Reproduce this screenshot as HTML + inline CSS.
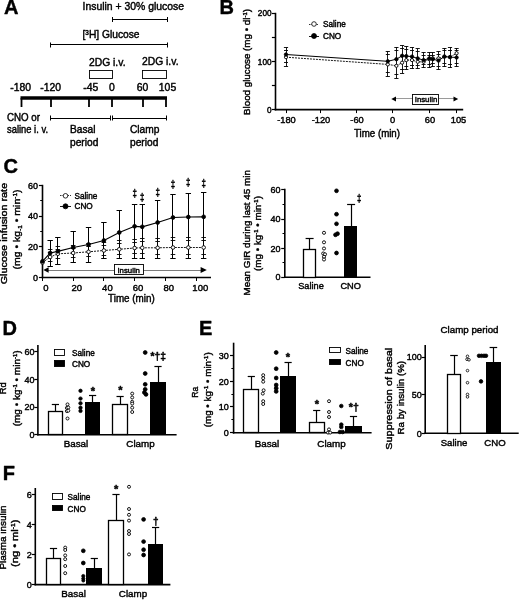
<!DOCTYPE html>
<html lang="en">
<head>
<meta charset="utf-8">
<title>Figure</title>
<style>
html,body{margin:0;padding:0;background:#fff;}
body{width:520px;height:600px;overflow:hidden;}
svg{display:block;}
svg text{font-family:'Liberation Sans', Arial, Helvetica, sans-serif;fill:#000;stroke:#000;stroke-width:0.42px;stroke-linejoin:round;}
</style>
</head>
<body>
<svg width="520" height="600" viewBox="0 0 520 600" stroke="#000" fill="#000">
<rect x="0" y="0" width="520" height="600" fill="#fff" stroke="none"/>
<text x="4.00" y="14.40" font-size="20" font-weight="bold">A</text>
<text x="82.50" y="9.60" font-size="10.4" textLength="101.50" lengthAdjust="spacingAndGlyphs">Insulin + 30% glucose</text>
<line x1="112.00" y1="19.50" x2="167.50" y2="19.50" stroke-width="1.0"/>
<line x1="112.50" y1="17.00" x2="112.50" y2="22.00" stroke-width="1.0"/>
<line x1="167.50" y1="17.00" x2="167.50" y2="22.00" stroke-width="1.0"/>
<text x="82.50" y="37.60" font-size="10.4" textLength="57.00" lengthAdjust="spacingAndGlyphs">[<tspan font-size="6.5" dy="-2.5">3</tspan><tspan dy="2.5">H] Glucose</tspan></text>
<line x1="51.00" y1="44.50" x2="167.50" y2="44.50" stroke-width="1.0"/>
<line x1="50.50" y1="42.50" x2="50.50" y2="47.50" stroke-width="1.0"/>
<line x1="167.50" y1="42.50" x2="167.50" y2="47.50" stroke-width="1.0"/>
<text x="89.00" y="65.60" font-size="10.4" textLength="36.50" lengthAdjust="spacingAndGlyphs">2DG i.v.</text>
<rect x="89.50" y="70.50" width="23.00" height="8.00" fill="#fff" stroke-width="0.9"/>
<text x="142.00" y="64.80" font-size="10.4" textLength="36.50" lengthAdjust="spacingAndGlyphs">2DG i.v.</text>
<rect x="142.50" y="70.50" width="24.00" height="8.00" fill="#fff" stroke-width="0.9"/>
<text x="20.70" y="91.30" font-size="10.4" text-anchor="middle">-180</text>
<text x="50.70" y="91.30" font-size="10.4" text-anchor="middle">-120</text>
<text x="90.70" y="91.30" font-size="10.4" text-anchor="middle">-45</text>
<text x="112.00" y="91.30" font-size="10.4" text-anchor="middle">0</text>
<text x="142.50" y="91.30" font-size="10.4" text-anchor="middle">60</text>
<text x="167.50" y="91.30" font-size="10.4" text-anchor="middle">105</text>
<line x1="20.50" y1="98.00" x2="167.00" y2="98.00" stroke-width="3.6"/>
<line x1="21.50" y1="98.00" x2="21.50" y2="107.00" stroke-width="1.8"/>
<line x1="51.00" y1="98.00" x2="51.00" y2="107.00" stroke-width="1.8"/>
<line x1="89.00" y1="98.00" x2="89.00" y2="107.00" stroke-width="1.8"/>
<line x1="112.00" y1="98.00" x2="112.00" y2="107.00" stroke-width="1.8"/>
<line x1="143.00" y1="98.00" x2="143.00" y2="107.00" stroke-width="1.8"/>
<line x1="166.00" y1="98.00" x2="166.00" y2="107.00" stroke-width="1.8"/>
<text x="7.00" y="120.50" font-size="10" textLength="33.00" lengthAdjust="spacingAndGlyphs">CNO or</text>
<text x="7.00" y="133.00" font-size="10" textLength="41.00" lengthAdjust="spacingAndGlyphs">saline i. v.</text>
<line x1="51.00" y1="118.50" x2="111.00" y2="118.50" stroke-width="1.0"/>
<line x1="50.50" y1="115.50" x2="50.50" y2="120.50" stroke-width="1.0"/>
<line x1="110.50" y1="115.50" x2="110.50" y2="120.50" stroke-width="1.0"/>
<line x1="113.00" y1="118.50" x2="167.00" y2="118.50" stroke-width="1.0"/>
<line x1="112.50" y1="115.50" x2="112.50" y2="120.50" stroke-width="1.0"/>
<line x1="166.50" y1="115.50" x2="166.50" y2="120.50" stroke-width="1.0"/>
<text x="70.00" y="133.00" font-size="10.2">Basal</text>
<text x="70.00" y="145.50" font-size="10.2">period</text>
<text x="130.00" y="133.00" font-size="10.2">Clamp</text>
<text x="130.00" y="145.50" font-size="10.2">period</text>
<text x="219.50" y="14.40" font-size="20" font-weight="bold">B</text>
<line x1="275.50" y1="12.80" x2="275.50" y2="110.40" stroke-width="1.6"/>
<line x1="274.70" y1="109.60" x2="463.20" y2="109.60" stroke-width="1.6"/>
<line x1="271.90" y1="13.50" x2="275.50" y2="13.50" stroke-width="1.2"/>
<text x="271.50" y="16.40" font-size="8.2" text-anchor="end">200</text>
<line x1="271.90" y1="37.50" x2="275.50" y2="37.50" stroke-width="1.2"/>
<line x1="271.90" y1="61.50" x2="275.50" y2="61.50" stroke-width="1.2"/>
<text x="271.50" y="64.60" font-size="8.2" text-anchor="end">100</text>
<line x1="271.90" y1="85.50" x2="275.50" y2="85.50" stroke-width="1.2"/>
<line x1="271.90" y1="109.50" x2="275.50" y2="109.50" stroke-width="1.2"/>
<text x="271.50" y="112.60" font-size="8.2" text-anchor="end">0</text>
<line x1="286.50" y1="109.60" x2="286.50" y2="113.10" stroke-width="1.0"/>
<line x1="320.50" y1="109.60" x2="320.50" y2="113.10" stroke-width="1.0"/>
<line x1="356.50" y1="109.60" x2="356.50" y2="113.10" stroke-width="1.0"/>
<line x1="392.50" y1="109.60" x2="392.50" y2="113.10" stroke-width="1.0"/>
<line x1="429.50" y1="109.60" x2="429.50" y2="113.10" stroke-width="1.0"/>
<line x1="456.50" y1="109.60" x2="456.50" y2="113.10" stroke-width="1.0"/>
<text x="286.50" y="122.50" font-size="9.3" text-anchor="middle">-180</text>
<text x="321.00" y="122.50" font-size="9.3" text-anchor="middle">-120</text>
<text x="357.00" y="122.50" font-size="9.3" text-anchor="middle">-60</text>
<text x="392.50" y="122.50" font-size="9.3" text-anchor="middle">0</text>
<text x="430.00" y="122.50" font-size="9.3" text-anchor="middle">60</text>
<text x="458.50" y="122.50" font-size="9.3" text-anchor="middle">105</text>
<text x="377.00" y="137.30" font-size="10" text-anchor="middle" textLength="46.00" lengthAdjust="spacingAndGlyphs">Time (min)</text>
<text x="250.00" y="62.00" font-size="9.8" text-anchor="middle" transform="rotate(-90 250.00 62.00)" textLength="106.00" lengthAdjust="spacingAndGlyphs">Blood glucose (mg • dl<tspan font-size="6" dy="-3">-1</tspan><tspan dy="3">)</tspan></text>
<line x1="309.00" y1="24.50" x2="319.00" y2="24.50" stroke-width="0.8" stroke-dasharray="1.5 1"/>
<circle cx="314.00" cy="24.00" r="2.3" fill="#fff" stroke-width="0.8"/>
<text x="323.00" y="27.00" font-size="8.2">Saline</text>
<line x1="309.00" y1="36.50" x2="319.00" y2="36.50" stroke-width="0.9"/>
<circle cx="314.00" cy="36.00" r="2.5" fill="#000" stroke-width="0.8"/>
<text x="323.00" y="39.00" font-size="8.2">CNO</text>
<line x1="286.50" y1="47.50" x2="286.50" y2="66.50" stroke-width="0.9"/>
<line x1="283.90" y1="47.50" x2="288.10" y2="47.50" stroke-width="0.9"/>
<line x1="283.90" y1="66.50" x2="288.10" y2="66.50" stroke-width="0.9"/>
<line x1="284.00" y1="50.50" x2="288.00" y2="50.50" stroke-width="0.9"/>
<line x1="284.00" y1="62.50" x2="288.00" y2="62.50" stroke-width="0.9"/>
<line x1="387.50" y1="51.40" x2="387.50" y2="76.50" stroke-width="0.9"/>
<line x1="385.70" y1="51.50" x2="389.90" y2="51.50" stroke-width="0.9"/>
<line x1="385.70" y1="76.50" x2="389.90" y2="76.50" stroke-width="0.9"/>
<line x1="385.80" y1="54.50" x2="389.80" y2="54.50" stroke-width="0.9"/>
<line x1="385.80" y1="72.50" x2="389.80" y2="72.50" stroke-width="0.9"/>
<line x1="396.50" y1="47.10" x2="396.50" y2="78.30" stroke-width="0.9"/>
<line x1="394.30" y1="47.50" x2="398.50" y2="47.50" stroke-width="0.9"/>
<line x1="394.30" y1="78.50" x2="398.50" y2="78.50" stroke-width="0.9"/>
<line x1="394.40" y1="50.50" x2="398.40" y2="50.50" stroke-width="0.9"/>
<line x1="394.40" y1="74.50" x2="398.40" y2="74.50" stroke-width="0.9"/>
<line x1="402.50" y1="45.40" x2="402.50" y2="73.40" stroke-width="0.9"/>
<line x1="400.00" y1="45.50" x2="404.20" y2="45.50" stroke-width="0.9"/>
<line x1="400.00" y1="73.50" x2="404.20" y2="73.50" stroke-width="0.9"/>
<line x1="400.10" y1="48.50" x2="404.10" y2="48.50" stroke-width="0.9"/>
<line x1="400.10" y1="69.50" x2="404.10" y2="69.50" stroke-width="0.9"/>
<line x1="406.50" y1="46.20" x2="406.50" y2="69.60" stroke-width="0.9"/>
<line x1="404.20" y1="46.50" x2="408.40" y2="46.50" stroke-width="0.9"/>
<line x1="404.20" y1="69.50" x2="408.40" y2="69.50" stroke-width="0.9"/>
<line x1="404.30" y1="49.50" x2="408.30" y2="49.50" stroke-width="0.9"/>
<line x1="404.30" y1="66.50" x2="408.30" y2="66.50" stroke-width="0.9"/>
<line x1="412.50" y1="47.10" x2="412.50" y2="68.70" stroke-width="0.9"/>
<line x1="409.90" y1="47.50" x2="414.10" y2="47.50" stroke-width="0.9"/>
<line x1="409.90" y1="68.50" x2="414.10" y2="68.50" stroke-width="0.9"/>
<line x1="410.00" y1="50.50" x2="414.00" y2="50.50" stroke-width="0.9"/>
<line x1="410.00" y1="65.50" x2="414.00" y2="65.50" stroke-width="0.9"/>
<line x1="417.50" y1="48.80" x2="417.50" y2="68.70" stroke-width="0.9"/>
<line x1="415.60" y1="48.50" x2="419.80" y2="48.50" stroke-width="0.9"/>
<line x1="415.60" y1="68.50" x2="419.80" y2="68.50" stroke-width="0.9"/>
<line x1="415.70" y1="51.50" x2="419.70" y2="51.50" stroke-width="0.9"/>
<line x1="415.70" y1="65.50" x2="419.70" y2="65.50" stroke-width="0.9"/>
<line x1="423.50" y1="52.30" x2="423.50" y2="67.90" stroke-width="0.9"/>
<line x1="421.50" y1="52.50" x2="425.70" y2="52.50" stroke-width="0.9"/>
<line x1="421.50" y1="67.50" x2="425.70" y2="67.50" stroke-width="0.9"/>
<line x1="421.60" y1="55.50" x2="425.60" y2="55.50" stroke-width="0.9"/>
<line x1="421.60" y1="64.50" x2="425.60" y2="64.50" stroke-width="0.9"/>
<line x1="429.50" y1="52.30" x2="429.50" y2="67.90" stroke-width="0.9"/>
<line x1="427.20" y1="52.50" x2="431.40" y2="52.50" stroke-width="0.9"/>
<line x1="427.20" y1="67.50" x2="431.40" y2="67.50" stroke-width="0.9"/>
<line x1="427.30" y1="55.50" x2="431.30" y2="55.50" stroke-width="0.9"/>
<line x1="427.30" y1="64.50" x2="431.30" y2="64.50" stroke-width="0.9"/>
<line x1="432.50" y1="52.30" x2="432.50" y2="67.00" stroke-width="0.9"/>
<line x1="430.70" y1="52.50" x2="434.90" y2="52.50" stroke-width="0.9"/>
<line x1="430.70" y1="66.50" x2="434.90" y2="66.50" stroke-width="0.9"/>
<line x1="430.80" y1="55.50" x2="434.80" y2="55.50" stroke-width="0.9"/>
<line x1="430.80" y1="63.50" x2="434.80" y2="63.50" stroke-width="0.9"/>
<line x1="438.50" y1="51.40" x2="438.50" y2="69.60" stroke-width="0.9"/>
<line x1="436.40" y1="51.50" x2="440.60" y2="51.50" stroke-width="0.9"/>
<line x1="436.40" y1="69.50" x2="440.60" y2="69.50" stroke-width="0.9"/>
<line x1="436.50" y1="54.50" x2="440.50" y2="54.50" stroke-width="0.9"/>
<line x1="436.50" y1="66.50" x2="440.50" y2="66.50" stroke-width="0.9"/>
<line x1="444.50" y1="48.00" x2="444.50" y2="67.00" stroke-width="0.9"/>
<line x1="442.30" y1="48.50" x2="446.50" y2="48.50" stroke-width="0.9"/>
<line x1="442.30" y1="66.50" x2="446.50" y2="66.50" stroke-width="0.9"/>
<line x1="442.40" y1="50.50" x2="446.40" y2="50.50" stroke-width="0.9"/>
<line x1="442.40" y1="63.50" x2="446.40" y2="63.50" stroke-width="0.9"/>
<line x1="450.50" y1="47.10" x2="450.50" y2="67.90" stroke-width="0.9"/>
<line x1="447.90" y1="47.50" x2="452.10" y2="47.50" stroke-width="0.9"/>
<line x1="447.90" y1="67.50" x2="452.10" y2="67.50" stroke-width="0.9"/>
<line x1="448.00" y1="50.50" x2="452.00" y2="50.50" stroke-width="0.9"/>
<line x1="448.00" y1="64.50" x2="452.00" y2="64.50" stroke-width="0.9"/>
<line x1="456.50" y1="48.00" x2="456.50" y2="67.00" stroke-width="0.9"/>
<line x1="454.50" y1="48.50" x2="458.70" y2="48.50" stroke-width="0.9"/>
<line x1="454.50" y1="66.50" x2="458.70" y2="66.50" stroke-width="0.9"/>
<line x1="454.60" y1="50.50" x2="458.60" y2="50.50" stroke-width="0.9"/>
<line x1="454.60" y1="63.50" x2="458.60" y2="63.50" stroke-width="0.9"/>
<polyline points="286.00,57.20 387.80,64.40 396.40,65.80 402.10,62.70 406.30,60.10 412.00,60.10 417.70,61.80 423.60,61.80 429.30,59.20 432.80,58.40 438.50,58.40 444.40,56.60 450.00,57.10 456.60,53.20" fill="none" stroke-width="0.9" stroke-dasharray="2 1"/>
<polyline points="286.00,54.50 387.80,61.30 396.40,59.20 402.10,55.80 406.30,56.10 412.00,56.60 417.70,58.40 423.60,60.10 429.30,58.40 432.80,59.20 438.50,60.60 444.40,56.60 450.00,57.10 456.60,57.50" fill="none" stroke-width="1.0"/>
<circle cx="286.00" cy="57.20" r="1.6" fill="#fff" stroke-width="0.9"/>
<circle cx="387.80" cy="64.40" r="1.6" fill="#fff" stroke-width="0.9"/>
<circle cx="396.40" cy="65.80" r="1.6" fill="#fff" stroke-width="0.9"/>
<circle cx="402.10" cy="62.70" r="1.6" fill="#fff" stroke-width="0.9"/>
<circle cx="406.30" cy="60.10" r="1.6" fill="#fff" stroke-width="0.9"/>
<circle cx="412.00" cy="60.10" r="1.6" fill="#fff" stroke-width="0.9"/>
<circle cx="417.70" cy="61.80" r="1.6" fill="#fff" stroke-width="0.9"/>
<circle cx="423.60" cy="61.80" r="1.6" fill="#fff" stroke-width="0.9"/>
<circle cx="429.30" cy="59.20" r="1.6" fill="#fff" stroke-width="0.9"/>
<circle cx="432.80" cy="58.40" r="1.6" fill="#fff" stroke-width="0.9"/>
<circle cx="438.50" cy="58.40" r="1.6" fill="#fff" stroke-width="0.9"/>
<circle cx="444.40" cy="56.60" r="1.6" fill="#fff" stroke-width="0.9"/>
<circle cx="450.00" cy="57.10" r="1.6" fill="#fff" stroke-width="0.9"/>
<circle cx="456.60" cy="53.20" r="1.6" fill="#fff" stroke-width="0.9"/>
<circle cx="286.00" cy="54.50" r="1.7" fill="#000" stroke-width="0.8"/>
<circle cx="387.80" cy="61.30" r="1.7" fill="#000" stroke-width="0.8"/>
<circle cx="396.40" cy="59.20" r="1.7" fill="#000" stroke-width="0.8"/>
<circle cx="402.10" cy="55.80" r="1.7" fill="#000" stroke-width="0.8"/>
<circle cx="406.30" cy="56.10" r="1.7" fill="#000" stroke-width="0.8"/>
<circle cx="412.00" cy="56.60" r="1.7" fill="#000" stroke-width="0.8"/>
<circle cx="417.70" cy="58.40" r="1.7" fill="#000" stroke-width="0.8"/>
<circle cx="423.60" cy="60.10" r="1.7" fill="#000" stroke-width="0.8"/>
<circle cx="429.30" cy="58.40" r="1.7" fill="#000" stroke-width="0.8"/>
<circle cx="432.80" cy="59.20" r="1.7" fill="#000" stroke-width="0.8"/>
<circle cx="438.50" cy="60.60" r="1.7" fill="#000" stroke-width="0.8"/>
<circle cx="444.40" cy="56.60" r="1.7" fill="#000" stroke-width="0.8"/>
<circle cx="450.00" cy="57.10" r="1.7" fill="#000" stroke-width="0.8"/>
<circle cx="456.60" cy="57.50" r="1.7" fill="#000" stroke-width="0.8"/>
<line x1="394.00" y1="98.50" x2="455.00" y2="98.50" stroke-width="0.6" stroke="#555"/>
<path d="M391.3 99 L396 96.5 L396 101.5Z" stroke="none"/>
<path d="M458.2 99 L453.5 96.5 L453.5 101.5Z" stroke="none"/>
<rect x="412.50" y="94.50" width="26.00" height="10.00" fill="#fff" stroke-width="0.9"/>
<text x="426.00" y="102.00" font-size="7.8" text-anchor="middle">Insulin</text>
<text x="3.40" y="172.70" font-size="20" font-weight="bold">C</text>
<line x1="42.50" y1="184.80" x2="42.50" y2="278.30" stroke-width="1.6"/>
<line x1="41.70" y1="277.50" x2="211.00" y2="277.50" stroke-width="1.6"/>
<line x1="38.90" y1="185.50" x2="42.50" y2="185.50" stroke-width="1.2"/>
<text x="38.00" y="188.70" font-size="9" text-anchor="end">60</text>
<line x1="38.90" y1="216.50" x2="42.50" y2="216.50" stroke-width="1.2"/>
<text x="38.00" y="219.40" font-size="9" text-anchor="end">40</text>
<line x1="38.90" y1="246.50" x2="42.50" y2="246.50" stroke-width="1.2"/>
<text x="38.00" y="250.20" font-size="9" text-anchor="end">20</text>
<line x1="38.90" y1="277.50" x2="42.50" y2="277.50" stroke-width="1.2"/>
<text x="38.00" y="280.70" font-size="9" text-anchor="end">0</text>
<line x1="40.20" y1="200.50" x2="42.50" y2="200.50" stroke-width="1.0"/>
<line x1="40.20" y1="231.50" x2="42.50" y2="231.50" stroke-width="1.0"/>
<line x1="40.20" y1="262.50" x2="42.50" y2="262.50" stroke-width="1.0"/>
<line x1="42.50" y1="277.50" x2="42.50" y2="281.00" stroke-width="1.0"/>
<text x="46.00" y="290.50" font-size="9.5" text-anchor="middle">0</text>
<line x1="73.50" y1="277.50" x2="73.50" y2="281.00" stroke-width="1.0"/>
<text x="76.70" y="290.50" font-size="9.5" text-anchor="middle">20</text>
<line x1="103.50" y1="277.50" x2="103.50" y2="281.00" stroke-width="1.0"/>
<text x="107.40" y="290.50" font-size="9.5" text-anchor="middle">40</text>
<line x1="134.50" y1="277.50" x2="134.50" y2="281.00" stroke-width="1.0"/>
<text x="138.10" y="290.50" font-size="9.5" text-anchor="middle">60</text>
<line x1="165.50" y1="277.50" x2="165.50" y2="281.00" stroke-width="1.0"/>
<text x="168.80" y="290.50" font-size="9.5" text-anchor="middle">80</text>
<line x1="196.50" y1="277.50" x2="196.50" y2="281.00" stroke-width="1.0"/>
<text x="200.30" y="290.50" font-size="9.5" text-anchor="middle">100</text>
<text x="131.40" y="301.60" font-size="10" text-anchor="middle" textLength="46.70" lengthAdjust="spacingAndGlyphs">Time (min)</text>
<text x="7.00" y="233.60" font-size="9.8" text-anchor="middle" transform="rotate(-90 7.00 233.60)" textLength="101.50" lengthAdjust="spacingAndGlyphs">Glucose infusion rate</text>
<text x="19.60" y="229.50" font-size="9.8" text-anchor="middle" transform="rotate(-90 19.60 229.50)" textLength="80.00" lengthAdjust="spacingAndGlyphs">(mg • kg<tspan font-size="6" dy="2">-1</tspan><tspan dy="-2"> • min</tspan><tspan font-size="6" dy="-3">-1</tspan><tspan dy="3">)</tspan></text>
<line x1="60.00" y1="195.50" x2="71.00" y2="195.50" stroke-width="0.8" stroke-dasharray="1.5 1"/>
<circle cx="65.50" cy="195.80" r="2.3" fill="#fff" stroke-width="0.8"/>
<text x="74.50" y="198.80" font-size="8.2">Saline</text>
<line x1="60.00" y1="206.50" x2="71.00" y2="206.50" stroke-width="0.9"/>
<circle cx="65.50" cy="206.30" r="2.5" fill="#000" stroke-width="0.8"/>
<text x="74.50" y="209.30" font-size="8.2">CNO</text>
<line x1="50.50" y1="240.50" x2="50.50" y2="267.00" stroke-width="1.0"/>
<line x1="47.47" y1="240.50" x2="52.88" y2="240.50" stroke-width="1.0"/>
<line x1="47.47" y1="266.50" x2="52.88" y2="266.50" stroke-width="1.0"/>
<line x1="47.88" y1="249.50" x2="52.47" y2="249.50" stroke-width="0.9"/>
<line x1="47.88" y1="252.50" x2="52.47" y2="252.50" stroke-width="0.9"/>
<line x1="47.88" y1="261.50" x2="52.47" y2="261.50" stroke-width="0.9"/>
<line x1="57.50" y1="237.50" x2="57.50" y2="265.00" stroke-width="1.0"/>
<line x1="55.15" y1="237.50" x2="60.55" y2="237.50" stroke-width="1.0"/>
<line x1="55.15" y1="264.50" x2="60.55" y2="264.50" stroke-width="1.0"/>
<line x1="55.55" y1="246.50" x2="60.15" y2="246.50" stroke-width="0.9"/>
<line x1="55.55" y1="249.50" x2="60.15" y2="249.50" stroke-width="0.9"/>
<line x1="55.55" y1="258.50" x2="60.15" y2="258.50" stroke-width="0.9"/>
<line x1="73.50" y1="231.80" x2="73.50" y2="263.00" stroke-width="1.0"/>
<line x1="70.50" y1="231.50" x2="75.90" y2="231.50" stroke-width="1.0"/>
<line x1="70.50" y1="262.50" x2="75.90" y2="262.50" stroke-width="1.0"/>
<line x1="70.90" y1="245.50" x2="75.50" y2="245.50" stroke-width="0.9"/>
<line x1="70.90" y1="248.50" x2="75.50" y2="248.50" stroke-width="0.9"/>
<line x1="70.90" y1="257.50" x2="75.50" y2="257.50" stroke-width="0.9"/>
<line x1="88.50" y1="227.50" x2="88.50" y2="262.50" stroke-width="1.0"/>
<line x1="85.85" y1="227.50" x2="91.25" y2="227.50" stroke-width="1.0"/>
<line x1="85.85" y1="262.50" x2="91.25" y2="262.50" stroke-width="1.0"/>
<line x1="86.25" y1="243.50" x2="90.85" y2="243.50" stroke-width="0.9"/>
<line x1="86.25" y1="246.50" x2="90.85" y2="246.50" stroke-width="0.9"/>
<line x1="86.25" y1="256.50" x2="90.85" y2="256.50" stroke-width="0.9"/>
<line x1="103.50" y1="222.00" x2="103.50" y2="258.80" stroke-width="1.0"/>
<line x1="101.20" y1="222.50" x2="106.60" y2="222.50" stroke-width="1.0"/>
<line x1="101.20" y1="258.50" x2="106.60" y2="258.50" stroke-width="1.0"/>
<line x1="101.60" y1="242.50" x2="106.20" y2="242.50" stroke-width="0.9"/>
<line x1="101.60" y1="245.50" x2="106.20" y2="245.50" stroke-width="0.9"/>
<line x1="101.60" y1="255.50" x2="106.20" y2="255.50" stroke-width="0.9"/>
<line x1="119.50" y1="210.80" x2="119.50" y2="258.80" stroke-width="1.0"/>
<line x1="116.55" y1="210.50" x2="121.95" y2="210.50" stroke-width="1.0"/>
<line x1="116.55" y1="258.50" x2="121.95" y2="258.50" stroke-width="1.0"/>
<line x1="116.95" y1="240.50" x2="121.55" y2="240.50" stroke-width="0.9"/>
<line x1="116.95" y1="243.50" x2="121.55" y2="243.50" stroke-width="0.9"/>
<line x1="116.95" y1="254.50" x2="121.55" y2="254.50" stroke-width="0.9"/>
<line x1="134.50" y1="204.50" x2="134.50" y2="258.50" stroke-width="1.0"/>
<line x1="131.90" y1="204.50" x2="137.30" y2="204.50" stroke-width="1.0"/>
<line x1="131.90" y1="258.50" x2="137.30" y2="258.50" stroke-width="1.0"/>
<line x1="132.30" y1="239.50" x2="136.90" y2="239.50" stroke-width="0.9"/>
<line x1="132.30" y1="242.50" x2="136.90" y2="242.50" stroke-width="0.9"/>
<line x1="132.30" y1="253.50" x2="136.90" y2="253.50" stroke-width="0.9"/>
<line x1="142.50" y1="204.50" x2="142.50" y2="258.50" stroke-width="1.0"/>
<line x1="139.57" y1="204.50" x2="144.97" y2="204.50" stroke-width="1.0"/>
<line x1="139.57" y1="258.50" x2="144.97" y2="258.50" stroke-width="1.0"/>
<line x1="139.97" y1="238.50" x2="144.57" y2="238.50" stroke-width="0.9"/>
<line x1="139.97" y1="241.50" x2="144.57" y2="241.50" stroke-width="0.9"/>
<line x1="139.97" y1="253.50" x2="144.57" y2="253.50" stroke-width="0.9"/>
<line x1="157.50" y1="200.00" x2="157.50" y2="258.50" stroke-width="1.0"/>
<line x1="154.93" y1="200.50" x2="160.32" y2="200.50" stroke-width="1.0"/>
<line x1="154.93" y1="258.50" x2="160.32" y2="258.50" stroke-width="1.0"/>
<line x1="155.32" y1="238.50" x2="159.93" y2="238.50" stroke-width="0.9"/>
<line x1="155.32" y1="241.50" x2="159.93" y2="241.50" stroke-width="0.9"/>
<line x1="155.32" y1="254.50" x2="159.93" y2="254.50" stroke-width="0.9"/>
<line x1="172.50" y1="194.50" x2="172.50" y2="258.50" stroke-width="1.0"/>
<line x1="170.28" y1="194.50" x2="175.67" y2="194.50" stroke-width="1.0"/>
<line x1="170.28" y1="258.50" x2="175.67" y2="258.50" stroke-width="1.0"/>
<line x1="170.67" y1="237.50" x2="175.28" y2="237.50" stroke-width="0.9"/>
<line x1="170.67" y1="240.50" x2="175.28" y2="240.50" stroke-width="0.9"/>
<line x1="170.67" y1="254.50" x2="175.28" y2="254.50" stroke-width="0.9"/>
<line x1="188.50" y1="193.80" x2="188.50" y2="258.50" stroke-width="1.0"/>
<line x1="185.62" y1="193.50" x2="191.02" y2="193.50" stroke-width="1.0"/>
<line x1="185.62" y1="258.50" x2="191.02" y2="258.50" stroke-width="1.0"/>
<line x1="186.02" y1="237.50" x2="190.62" y2="237.50" stroke-width="0.9"/>
<line x1="186.02" y1="240.50" x2="190.62" y2="240.50" stroke-width="0.9"/>
<line x1="186.02" y1="254.50" x2="190.62" y2="254.50" stroke-width="0.9"/>
<line x1="203.50" y1="192.50" x2="203.50" y2="258.50" stroke-width="1.0"/>
<line x1="200.97" y1="192.50" x2="206.37" y2="192.50" stroke-width="1.0"/>
<line x1="200.97" y1="258.50" x2="206.37" y2="258.50" stroke-width="1.0"/>
<line x1="201.37" y1="237.50" x2="205.97" y2="237.50" stroke-width="0.9"/>
<line x1="201.37" y1="240.50" x2="205.97" y2="240.50" stroke-width="0.9"/>
<line x1="201.37" y1="254.50" x2="205.97" y2="254.50" stroke-width="0.9"/>
<polyline points="42.50,262.50 50.17,257.00 57.85,253.80 73.20,253.00 88.55,251.80 103.90,250.50 119.25,249.30 134.60,248.00 142.27,247.80 157.62,247.80 172.97,247.50 188.32,247.50 203.67,247.50" fill="none" stroke-width="0.9" stroke-dasharray="2 1"/>
<polyline points="42.50,261.30 50.17,253.00 57.85,251.30 73.20,247.50 88.55,244.50 103.90,240.50 119.25,232.50 134.60,226.30 142.27,226.80 157.62,222.50 172.97,217.50 188.32,217.00 203.67,216.80" fill="none" stroke-width="1.2"/>
<circle cx="42.50" cy="262.50" r="1.8" fill="#fff" stroke-width="0.9"/>
<circle cx="50.17" cy="257.00" r="1.8" fill="#fff" stroke-width="0.9"/>
<circle cx="57.85" cy="253.80" r="1.8" fill="#fff" stroke-width="0.9"/>
<circle cx="73.20" cy="253.00" r="1.8" fill="#fff" stroke-width="0.9"/>
<circle cx="88.55" cy="251.80" r="1.8" fill="#fff" stroke-width="0.9"/>
<circle cx="103.90" cy="250.50" r="1.8" fill="#fff" stroke-width="0.9"/>
<circle cx="119.25" cy="249.30" r="1.8" fill="#fff" stroke-width="0.9"/>
<circle cx="134.60" cy="248.00" r="1.8" fill="#fff" stroke-width="0.9"/>
<circle cx="142.27" cy="247.80" r="1.8" fill="#fff" stroke-width="0.9"/>
<circle cx="157.62" cy="247.80" r="1.8" fill="#fff" stroke-width="0.9"/>
<circle cx="172.97" cy="247.50" r="1.8" fill="#fff" stroke-width="0.9"/>
<circle cx="188.32" cy="247.50" r="1.8" fill="#fff" stroke-width="0.9"/>
<circle cx="203.67" cy="247.50" r="1.8" fill="#fff" stroke-width="0.9"/>
<circle cx="42.50" cy="261.30" r="1.9" fill="#000" stroke-width="0.8"/>
<circle cx="50.17" cy="253.00" r="1.9" fill="#000" stroke-width="0.8"/>
<circle cx="57.85" cy="251.30" r="1.9" fill="#000" stroke-width="0.8"/>
<circle cx="73.20" cy="247.50" r="1.9" fill="#000" stroke-width="0.8"/>
<circle cx="88.55" cy="244.50" r="1.9" fill="#000" stroke-width="0.8"/>
<circle cx="103.90" cy="240.50" r="1.9" fill="#000" stroke-width="0.8"/>
<circle cx="119.25" cy="232.50" r="1.9" fill="#000" stroke-width="0.8"/>
<circle cx="134.60" cy="226.30" r="1.9" fill="#000" stroke-width="0.8"/>
<circle cx="142.27" cy="226.80" r="1.9" fill="#000" stroke-width="0.8"/>
<circle cx="157.62" cy="222.50" r="1.9" fill="#000" stroke-width="0.8"/>
<circle cx="172.97" cy="217.50" r="1.9" fill="#000" stroke-width="0.8"/>
<circle cx="188.32" cy="217.00" r="1.9" fill="#000" stroke-width="0.8"/>
<circle cx="203.67" cy="216.80" r="1.9" fill="#000" stroke-width="0.8"/>
<text x="132.40" y="197.30" font-size="11" font-weight="bold" textLength="4.40" lengthAdjust="spacingAndGlyphs">‡</text>
<text x="140.07" y="200.50" font-size="11" font-weight="bold" textLength="4.40" lengthAdjust="spacingAndGlyphs">‡</text>
<text x="155.43" y="196.30" font-size="11" font-weight="bold" textLength="4.40" lengthAdjust="spacingAndGlyphs">‡</text>
<text x="170.78" y="187.80" font-size="11" font-weight="bold" textLength="4.40" lengthAdjust="spacingAndGlyphs">‡</text>
<text x="186.12" y="186.30" font-size="11" font-weight="bold" textLength="4.40" lengthAdjust="spacingAndGlyphs">‡</text>
<text x="201.47" y="186.80" font-size="11" font-weight="bold" textLength="4.40" lengthAdjust="spacingAndGlyphs">‡</text>
<line x1="46.00" y1="270.50" x2="203.00" y2="270.50" stroke-width="0.7" stroke="#444"/>
<path d="M43.3 270 L48.6 267.3 L48.6 272.7Z" stroke="none"/>
<path d="M206.8 270 L200.6 267 L200.6 273Z" stroke="none"/>
<rect x="114.50" y="264.50" width="29.00" height="10.00" fill="#fff" stroke-width="0.9"/>
<text x="128.70" y="272.60" font-size="7.8" text-anchor="middle">Insulin</text>
<line x1="284.80" y1="188.80" x2="284.80" y2="278.00" stroke-width="1.6"/>
<line x1="284.00" y1="277.20" x2="370.50" y2="277.20" stroke-width="1.6"/>
<line x1="281.20" y1="189.50" x2="284.80" y2="189.50" stroke-width="1.2"/>
<text x="280.50" y="192.90" font-size="9" text-anchor="end">60</text>
<line x1="281.20" y1="219.50" x2="284.80" y2="219.50" stroke-width="1.2"/>
<text x="280.50" y="222.30" font-size="9" text-anchor="end">40</text>
<line x1="281.20" y1="248.50" x2="284.80" y2="248.50" stroke-width="1.2"/>
<text x="280.50" y="251.70" font-size="9" text-anchor="end">20</text>
<line x1="281.20" y1="277.50" x2="284.80" y2="277.50" stroke-width="1.2"/>
<text x="280.50" y="280.40" font-size="9" text-anchor="end">0</text>
<line x1="282.50" y1="204.50" x2="284.80" y2="204.50" stroke-width="1.0"/>
<line x1="282.50" y1="233.50" x2="284.80" y2="233.50" stroke-width="1.0"/>
<line x1="282.50" y1="262.50" x2="284.80" y2="262.50" stroke-width="1.0"/>
<line x1="309.50" y1="238.50" x2="309.50" y2="250.00" stroke-width="1.2"/>
<line x1="305.60" y1="238.50" x2="313.60" y2="238.50" stroke-width="1.2"/>
<rect x="303.50" y="249.50" width="12.00" height="28.00" fill="#fff" stroke-width="1.3"/>
<line x1="351.50" y1="204.00" x2="351.50" y2="228.00" stroke-width="1.2"/>
<line x1="347.10" y1="204.50" x2="355.10" y2="204.50" stroke-width="1.2"/>
<rect x="344.50" y="226.50" width="12.00" height="51.00" fill="#000" stroke-width="1.0"/>
<circle cx="324.00" cy="232.80" r="1.55" fill="#fff" stroke-width="0.9"/>
<circle cx="324.00" cy="242.30" r="1.55" fill="#fff" stroke-width="0.9"/>
<circle cx="324.00" cy="248.50" r="1.55" fill="#fff" stroke-width="0.9"/>
<circle cx="323.20" cy="253.50" r="1.55" fill="#fff" stroke-width="0.9"/>
<circle cx="325.00" cy="254.30" r="1.55" fill="#fff" stroke-width="0.9"/>
<circle cx="324.00" cy="256.80" r="1.55" fill="#fff" stroke-width="0.9"/>
<circle cx="324.00" cy="259.50" r="1.55" fill="#fff" stroke-width="0.9"/>
<circle cx="336.50" cy="190.80" r="1.9" fill="#000" stroke-width="0.8"/>
<circle cx="336.50" cy="214.20" r="1.9" fill="#000" stroke-width="0.8"/>
<circle cx="336.50" cy="223.80" r="1.9" fill="#000" stroke-width="0.8"/>
<circle cx="335.50" cy="234.80" r="1.9" fill="#000" stroke-width="0.8"/>
<circle cx="337.50" cy="233.70" r="1.9" fill="#000" stroke-width="0.8"/>
<circle cx="336.50" cy="253.00" r="1.9" fill="#000" stroke-width="0.8"/>
<text x="357.00" y="202.20" font-size="11" font-weight="bold" textLength="4.40" lengthAdjust="spacingAndGlyphs">‡</text>
<text x="311.00" y="288.60" font-size="9.2" text-anchor="middle">Saline</text>
<text x="350.70" y="288.60" font-size="9.2" text-anchor="middle">CNO</text>
<text x="249.60" y="232.80" font-size="9.8" text-anchor="middle" transform="rotate(-90 249.60 232.80)" textLength="125.50" lengthAdjust="spacingAndGlyphs">Mean GIR during last 45 min</text>
<text x="260.80" y="233.50" font-size="9.8" text-anchor="middle" transform="rotate(-90 260.80 233.50)" textLength="75.00" lengthAdjust="spacingAndGlyphs">(mg • kg<tspan font-size="6" dy="-3">-1</tspan><tspan dy="3"> • min</tspan><tspan font-size="6" dy="-3">-1</tspan><tspan dy="3">)</tspan></text>
<text x="2.50" y="335.40" font-size="20" font-weight="bold">D</text>
<line x1="37.90" y1="345.00" x2="37.90" y2="435.60" stroke-width="1.6"/>
<line x1="37.10" y1="434.80" x2="176.60" y2="434.80" stroke-width="1.6"/>
<line x1="34.30" y1="351.50" x2="37.90" y2="351.50" stroke-width="1.2"/>
<text x="34.50" y="354.70" font-size="9" text-anchor="end">60</text>
<line x1="34.30" y1="379.50" x2="37.90" y2="379.50" stroke-width="1.2"/>
<text x="34.50" y="382.50" font-size="9" text-anchor="end">40</text>
<line x1="34.30" y1="407.50" x2="37.90" y2="407.50" stroke-width="1.2"/>
<text x="34.50" y="410.30" font-size="9" text-anchor="end">20</text>
<line x1="34.30" y1="434.50" x2="37.90" y2="434.50" stroke-width="1.2"/>
<text x="34.50" y="438.00" font-size="9" text-anchor="end">0</text>
<line x1="55.50" y1="405.00" x2="55.50" y2="412.00" stroke-width="1.2"/>
<line x1="51.80" y1="404.50" x2="59.00" y2="404.50" stroke-width="1.2"/>
<rect x="48.50" y="411.50" width="14.00" height="23.00" fill="#fff" stroke-width="1.3"/>
<line x1="92.50" y1="395.30" x2="92.50" y2="404.00" stroke-width="1.2"/>
<line x1="89.00" y1="395.50" x2="96.20" y2="395.50" stroke-width="1.2"/>
<rect x="85.50" y="402.50" width="14.00" height="32.00" fill="#000" stroke-width="1.0"/>
<line x1="120.50" y1="396.80" x2="120.50" y2="406.00" stroke-width="1.2"/>
<line x1="116.50" y1="396.50" x2="123.70" y2="396.50" stroke-width="1.2"/>
<rect x="112.50" y="404.50" width="15.00" height="30.00" fill="#fff" stroke-width="1.3"/>
<line x1="158.50" y1="366.10" x2="158.50" y2="384.00" stroke-width="1.2"/>
<line x1="154.40" y1="366.50" x2="161.60" y2="366.50" stroke-width="1.2"/>
<rect x="150.50" y="382.50" width="15.00" height="52.00" fill="#000" stroke-width="1.0"/>
<circle cx="67.50" cy="404.40" r="1.5" fill="#fff" stroke-width="0.9"/>
<circle cx="66.90" cy="407.90" r="1.5" fill="#fff" stroke-width="0.9"/>
<circle cx="68.30" cy="407.50" r="1.5" fill="#fff" stroke-width="0.9"/>
<circle cx="66.90" cy="411.10" r="1.5" fill="#fff" stroke-width="0.9"/>
<circle cx="68.30" cy="410.70" r="1.5" fill="#fff" stroke-width="0.9"/>
<circle cx="67.50" cy="418.50" r="1.5" fill="#fff" stroke-width="0.9"/>
<circle cx="80.50" cy="390.80" r="1.7" fill="#000" stroke-width="0.8"/>
<circle cx="80.50" cy="398.60" r="1.7" fill="#000" stroke-width="0.8"/>
<circle cx="80.50" cy="403.30" r="1.7" fill="#000" stroke-width="0.8"/>
<circle cx="80.50" cy="407.70" r="1.7" fill="#000" stroke-width="0.8"/>
<circle cx="80.50" cy="410.90" r="1.7" fill="#000" stroke-width="0.8"/>
<text x="93.00" y="394.50" font-size="11" text-anchor="middle" font-weight="bold">*</text>
<circle cx="132.20" cy="393.60" r="1.5" fill="#fff" stroke-width="0.9"/>
<circle cx="132.20" cy="397.50" r="1.5" fill="#fff" stroke-width="0.9"/>
<circle cx="132.20" cy="401.80" r="1.5" fill="#fff" stroke-width="0.9"/>
<circle cx="132.20" cy="403.60" r="1.5" fill="#fff" stroke-width="0.9"/>
<circle cx="132.20" cy="407.70" r="1.5" fill="#fff" stroke-width="0.9"/>
<circle cx="132.20" cy="412.00" r="1.5" fill="#fff" stroke-width="0.9"/>
<text x="120.30" y="394.30" font-size="11" text-anchor="middle" font-weight="bold">*</text>
<circle cx="145.20" cy="352.50" r="1.9" fill="#000" stroke-width="0.8"/>
<circle cx="145.20" cy="373.50" r="1.9" fill="#000" stroke-width="0.8"/>
<circle cx="145.20" cy="384.30" r="1.9" fill="#000" stroke-width="0.8"/>
<circle cx="145.20" cy="389.30" r="1.9" fill="#000" stroke-width="0.8"/>
<circle cx="144.40" cy="392.50" r="1.9" fill="#000" stroke-width="0.8"/>
<circle cx="146.00" cy="394.40" r="1.9" fill="#000" stroke-width="0.8"/>
<text x="158.30" y="359.80" font-size="10" text-anchor="middle" font-weight="bold" textLength="15.50" lengthAdjust="spacingAndGlyphs">*†‡</text>
<rect x="54.50" y="349.50" width="10.00" height="6.00" fill="#fff" stroke-width="0.9"/>
<text x="72.00" y="355.90" font-size="8.2">Saline</text>
<rect x="54.50" y="360.50" width="10.00" height="6.00" fill="#000" stroke-width="0.9"/>
<text x="72.00" y="367.20" font-size="8.2">CNO</text>
<text x="76.00" y="447.30" font-size="9.8" text-anchor="middle">Basal</text>
<text x="140.50" y="447.30" font-size="9.8" text-anchor="middle">Clamp</text>
<text x="6.40" y="388.30" font-size="9.4" text-anchor="middle" transform="rotate(-90 6.40 388.30)">Rd</text>
<text x="19.80" y="388.30" font-size="9.8" text-anchor="middle" transform="rotate(-90 19.80 388.30)" textLength="76.00" lengthAdjust="spacingAndGlyphs">(mg • kg<tspan font-size="6" dy="-3">-1</tspan><tspan dy="3"> • min</tspan><tspan font-size="6" dy="-3">-1</tspan><tspan dy="3">)</tspan></text>
<text x="199.10" y="335.40" font-size="20" font-weight="bold">E</text>
<line x1="233.60" y1="342.70" x2="233.60" y2="433.60" stroke-width="1.6"/>
<line x1="232.80" y1="432.80" x2="371.60" y2="432.80" stroke-width="1.6"/>
<line x1="230.00" y1="355.50" x2="233.60" y2="355.50" stroke-width="1.2"/>
<text x="228.80" y="358.50" font-size="9" text-anchor="end">30</text>
<line x1="230.00" y1="381.50" x2="233.60" y2="381.50" stroke-width="1.2"/>
<text x="228.80" y="384.50" font-size="9" text-anchor="end">20</text>
<line x1="230.00" y1="406.50" x2="233.60" y2="406.50" stroke-width="1.2"/>
<text x="228.80" y="410.20" font-size="9" text-anchor="end">10</text>
<line x1="230.00" y1="432.50" x2="233.60" y2="432.50" stroke-width="1.2"/>
<text x="228.80" y="436.00" font-size="9" text-anchor="end">0</text>
<line x1="231.40" y1="368.50" x2="233.60" y2="368.50" stroke-width="1.0"/>
<line x1="231.40" y1="394.50" x2="233.60" y2="394.50" stroke-width="1.0"/>
<line x1="231.40" y1="419.50" x2="233.60" y2="419.50" stroke-width="1.0"/>
<line x1="251.50" y1="376.70" x2="251.50" y2="390.00" stroke-width="1.2"/>
<line x1="247.70" y1="376.50" x2="254.90" y2="376.50" stroke-width="1.2"/>
<rect x="243.50" y="389.50" width="15.00" height="43.00" fill="#fff" stroke-width="1.3"/>
<line x1="288.50" y1="362.60" x2="288.50" y2="378.00" stroke-width="1.2"/>
<line x1="284.50" y1="362.50" x2="291.70" y2="362.50" stroke-width="1.2"/>
<rect x="280.50" y="376.50" width="15.00" height="56.00" fill="#000" stroke-width="1.0"/>
<line x1="316.50" y1="410.40" x2="316.50" y2="423.00" stroke-width="1.2"/>
<line x1="313.10" y1="410.50" x2="320.30" y2="410.50" stroke-width="1.2"/>
<rect x="309.50" y="422.50" width="15.00" height="10.00" fill="#fff" stroke-width="1.3"/>
<line x1="353.50" y1="416.40" x2="353.50" y2="427.00" stroke-width="1.2"/>
<line x1="349.90" y1="416.50" x2="357.10" y2="416.50" stroke-width="1.2"/>
<rect x="345.50" y="426.50" width="16.00" height="6.00" fill="#000" stroke-width="1.0"/>
<circle cx="263.20" cy="375.20" r="1.5" fill="#fff" stroke-width="0.9"/>
<circle cx="263.20" cy="378.20" r="1.5" fill="#fff" stroke-width="0.9"/>
<circle cx="263.20" cy="381.70" r="1.5" fill="#fff" stroke-width="0.9"/>
<circle cx="263.60" cy="390.30" r="1.5" fill="#fff" stroke-width="0.9"/>
<circle cx="262.80" cy="393.60" r="1.5" fill="#fff" stroke-width="0.9"/>
<circle cx="263.20" cy="401.20" r="1.5" fill="#fff" stroke-width="0.9"/>
<circle cx="263.20" cy="404.00" r="1.5" fill="#fff" stroke-width="0.9"/>
<circle cx="276.20" cy="352.50" r="1.9" fill="#000" stroke-width="0.8"/>
<circle cx="276.20" cy="368.70" r="1.9" fill="#000" stroke-width="0.8"/>
<circle cx="276.20" cy="378.00" r="1.9" fill="#000" stroke-width="0.8"/>
<circle cx="276.20" cy="385.00" r="1.9" fill="#000" stroke-width="0.8"/>
<circle cx="276.20" cy="388.20" r="1.9" fill="#000" stroke-width="0.8"/>
<circle cx="276.20" cy="391.40" r="1.9" fill="#000" stroke-width="0.8"/>
<text x="288.00" y="360.50" font-size="11" text-anchor="middle" font-weight="bold">*</text>
<text x="316.80" y="408.00" font-size="11" text-anchor="middle" font-weight="bold">*</text>
<circle cx="329.00" cy="401.20" r="1.5" fill="#fff" stroke-width="0.9"/>
<circle cx="329.00" cy="412.00" r="1.5" fill="#fff" stroke-width="0.9"/>
<circle cx="329.00" cy="417.00" r="1.5" fill="#fff" stroke-width="0.9"/>
<circle cx="329.00" cy="429.40" r="1.5" fill="#fff" stroke-width="0.9"/>
<circle cx="328.00" cy="432.60" r="1.5" fill="#fff" stroke-width="0.9"/>
<circle cx="330.20" cy="432.60" r="1.5" fill="#fff" stroke-width="0.9"/>
<circle cx="341.30" cy="406.00" r="1.8" fill="#000" stroke-width="0.8"/>
<circle cx="341.30" cy="424.60" r="1.8" fill="#000" stroke-width="0.8"/>
<circle cx="341.30" cy="427.00" r="1.8" fill="#000" stroke-width="0.8"/>
<circle cx="339.90" cy="432.00" r="1.8" fill="#000" stroke-width="0.8"/>
<circle cx="342.70" cy="432.00" r="1.8" fill="#000" stroke-width="0.8"/>
<text x="353.80" y="410.60" font-size="10" text-anchor="middle" font-weight="bold" textLength="10.00" lengthAdjust="spacingAndGlyphs">*†</text>
<rect x="329.50" y="347.50" width="11.00" height="5.00" fill="#fff" stroke-width="0.9"/>
<text x="345.60" y="353.70" font-size="8.2">Saline</text>
<rect x="329.50" y="359.50" width="11.00" height="5.00" fill="#000" stroke-width="0.9"/>
<text x="345.60" y="365.70" font-size="8.2">CNO</text>
<text x="267.00" y="446.70" font-size="9.8" text-anchor="middle">Basal</text>
<text x="331.50" y="447.30" font-size="9.8" text-anchor="middle">Clamp</text>
<text x="198.00" y="392.30" font-size="8.6" text-anchor="middle" transform="rotate(-90 198.00 392.30)">Ra</text>
<text x="211.50" y="389.80" font-size="9.8" text-anchor="middle" transform="rotate(-90 211.50 389.80)" textLength="75.00" lengthAdjust="spacingAndGlyphs">(mg • kg<tspan font-size="6" dy="-3">-1</tspan><tspan dy="3"> • min</tspan><tspan font-size="6" dy="-3">-1</tspan><tspan dy="3">)</tspan></text>
<text x="469.50" y="333.00" font-size="9.8" text-anchor="middle" textLength="58.00" lengthAdjust="spacingAndGlyphs">Clamp period</text>
<line x1="425.20" y1="345.00" x2="425.20" y2="434.10" stroke-width="1.6"/>
<line x1="424.40" y1="433.30" x2="518.70" y2="433.30" stroke-width="1.6"/>
<line x1="421.60" y1="357.50" x2="425.20" y2="357.50" stroke-width="1.2"/>
<text x="421.70" y="360.30" font-size="9" text-anchor="end">100</text>
<line x1="421.60" y1="394.50" x2="425.20" y2="394.50" stroke-width="1.2"/>
<text x="421.70" y="398.00" font-size="9" text-anchor="end">50</text>
<line x1="421.60" y1="433.50" x2="425.20" y2="433.50" stroke-width="1.2"/>
<text x="421.70" y="436.50" font-size="9" text-anchor="end">0</text>
<line x1="454.50" y1="355.20" x2="454.50" y2="375.00" stroke-width="1.2"/>
<line x1="450.20" y1="355.50" x2="457.80" y2="355.50" stroke-width="1.2"/>
<rect x="447.50" y="374.50" width="13.00" height="59.00" fill="#fff" stroke-width="1.3"/>
<line x1="493.50" y1="347.70" x2="493.50" y2="363.00" stroke-width="1.2"/>
<line x1="489.60" y1="347.50" x2="497.20" y2="347.50" stroke-width="1.2"/>
<rect x="486.50" y="362.50" width="14.00" height="71.00" fill="#000" stroke-width="1.0"/>
<circle cx="467.50" cy="356.30" r="1.3" fill="#fff" stroke-width="0.8"/>
<circle cx="467.00" cy="359.30" r="1.3" fill="#fff" stroke-width="0.8"/>
<circle cx="469.00" cy="359.80" r="1.3" fill="#fff" stroke-width="0.8"/>
<circle cx="467.50" cy="370.60" r="1.3" fill="#fff" stroke-width="0.8"/>
<circle cx="467.50" cy="382.70" r="1.3" fill="#fff" stroke-width="0.8"/>
<circle cx="467.50" cy="394.40" r="1.3" fill="#fff" stroke-width="0.8"/>
<circle cx="467.50" cy="396.90" r="1.3" fill="#fff" stroke-width="0.8"/>
<circle cx="479.00" cy="355.80" r="1.8" fill="#000" stroke-width="0.8"/>
<circle cx="481.50" cy="355.80" r="1.8" fill="#000" stroke-width="0.8"/>
<circle cx="484.00" cy="355.80" r="1.8" fill="#000" stroke-width="0.8"/>
<circle cx="486.00" cy="355.80" r="1.8" fill="#000" stroke-width="0.8"/>
<circle cx="481.00" cy="381.40" r="1.8" fill="#000" stroke-width="0.8"/>
<text x="454.00" y="446.20" font-size="9.6" text-anchor="middle">Saline</text>
<text x="495.00" y="446.20" font-size="9.6" text-anchor="middle">CNO</text>
<text x="391.80" y="398.80" font-size="9.8" text-anchor="middle" transform="rotate(-90 391.80 398.80)" textLength="102.00" lengthAdjust="spacingAndGlyphs">Suppression of basal</text>
<text x="403.80" y="397.70" font-size="9.8" text-anchor="middle" transform="rotate(-90 403.80 397.70)" textLength="73.50" lengthAdjust="spacingAndGlyphs">Ra by insulin (%)</text>
<text x="2.80" y="480.00" font-size="20" font-weight="bold">F</text>
<line x1="35.30" y1="488.00" x2="35.30" y2="585.40" stroke-width="1.6"/>
<line x1="34.50" y1="584.60" x2="170.40" y2="584.60" stroke-width="1.6"/>
<line x1="31.70" y1="494.50" x2="35.30" y2="494.50" stroke-width="1.2"/>
<text x="31.80" y="498.20" font-size="9" text-anchor="end">6</text>
<line x1="31.70" y1="524.50" x2="35.30" y2="524.50" stroke-width="1.2"/>
<text x="31.80" y="527.80" font-size="9" text-anchor="end">4</text>
<line x1="31.70" y1="554.50" x2="35.30" y2="554.50" stroke-width="1.2"/>
<text x="31.80" y="557.60" font-size="9" text-anchor="end">2</text>
<line x1="31.70" y1="584.50" x2="35.30" y2="584.50" stroke-width="1.2"/>
<text x="31.80" y="587.80" font-size="9" text-anchor="end">0</text>
<line x1="53.50" y1="548.90" x2="53.50" y2="559.00" stroke-width="1.2"/>
<line x1="49.90" y1="548.50" x2="57.10" y2="548.50" stroke-width="1.2"/>
<rect x="46.50" y="558.50" width="14.00" height="26.00" fill="#fff" stroke-width="1.3"/>
<line x1="94.50" y1="558.40" x2="94.50" y2="570.00" stroke-width="1.2"/>
<line x1="90.70" y1="558.50" x2="97.90" y2="558.50" stroke-width="1.2"/>
<rect x="86.50" y="568.50" width="15.00" height="16.00" fill="#000" stroke-width="1.0"/>
<line x1="116.50" y1="494.50" x2="116.50" y2="522.00" stroke-width="1.2"/>
<line x1="112.40" y1="494.50" x2="119.60" y2="494.50" stroke-width="1.2"/>
<rect x="108.50" y="520.50" width="15.00" height="64.00" fill="#fff" stroke-width="1.3"/>
<line x1="155.50" y1="527.60" x2="155.50" y2="545.00" stroke-width="1.2"/>
<line x1="152.00" y1="527.50" x2="159.20" y2="527.50" stroke-width="1.2"/>
<rect x="148.50" y="544.50" width="14.00" height="40.00" fill="#000" stroke-width="1.0"/>
<circle cx="65.20" cy="547.60" r="1.5" fill="#fff" stroke-width="0.9"/>
<circle cx="65.20" cy="550.00" r="1.5" fill="#fff" stroke-width="0.9"/>
<circle cx="65.20" cy="555.40" r="1.5" fill="#fff" stroke-width="0.9"/>
<circle cx="65.20" cy="559.20" r="1.5" fill="#fff" stroke-width="0.9"/>
<circle cx="65.20" cy="566.00" r="1.5" fill="#fff" stroke-width="0.9"/>
<circle cx="65.20" cy="573.20" r="1.5" fill="#fff" stroke-width="0.9"/>
<circle cx="83.30" cy="550.80" r="1.9" fill="#000" stroke-width="0.8"/>
<circle cx="83.30" cy="563.00" r="1.9" fill="#000" stroke-width="0.8"/>
<circle cx="83.30" cy="576.00" r="1.6" fill="#000" stroke-width="0.8"/>
<circle cx="83.30" cy="578.60" r="1.6" fill="#000" stroke-width="0.8"/>
<circle cx="83.30" cy="580.60" r="1.5" fill="#000" stroke-width="0.8"/>
<text x="116.10" y="492.50" font-size="11" text-anchor="middle" font-weight="bold">*</text>
<circle cx="129.00" cy="486.80" r="1.5" fill="#fff" stroke-width="0.9"/>
<circle cx="129.00" cy="509.00" r="1.5" fill="#fff" stroke-width="0.9"/>
<circle cx="129.00" cy="514.80" r="1.5" fill="#fff" stroke-width="0.9"/>
<circle cx="129.00" cy="520.60" r="1.5" fill="#fff" stroke-width="0.9"/>
<circle cx="129.00" cy="531.00" r="1.5" fill="#fff" stroke-width="0.9"/>
<circle cx="129.00" cy="534.00" r="1.5" fill="#fff" stroke-width="0.9"/>
<circle cx="129.00" cy="554.40" r="1.5" fill="#fff" stroke-width="0.9"/>
<circle cx="143.60" cy="519.40" r="1.9" fill="#000" stroke-width="0.8"/>
<circle cx="143.60" cy="541.60" r="1.9" fill="#000" stroke-width="0.8"/>
<circle cx="143.60" cy="549.70" r="1.9" fill="#000" stroke-width="0.8"/>
<circle cx="143.60" cy="555.00" r="1.9" fill="#000" stroke-width="0.8"/>
<text x="155.70" y="525.00" font-size="10" text-anchor="middle" font-weight="bold">†</text>
<rect x="52.50" y="493.50" width="10.00" height="6.00" fill="#fff" stroke-width="0.9"/>
<text x="67.60" y="499.90" font-size="8.2">Saline</text>
<rect x="52.50" y="505.50" width="10.00" height="5.00" fill="#000" stroke-width="0.9"/>
<text x="67.60" y="511.50" font-size="8.2">CNO</text>
<text x="73.60" y="597.30" font-size="9.8" text-anchor="middle">Basal</text>
<text x="133.00" y="597.30" font-size="9.8" text-anchor="middle">Clamp</text>
<text x="6.00" y="537.50" font-size="9.8" text-anchor="middle" transform="rotate(-90 6.00 537.50)" textLength="64.00" lengthAdjust="spacingAndGlyphs">Plasma insulin</text>
<text x="17.60" y="543.20" font-size="9.8" text-anchor="middle" transform="rotate(-90 17.60 543.20)" textLength="47.50" lengthAdjust="spacingAndGlyphs">(ng • ml<tspan font-size="6" dy="-3">-1</tspan><tspan dy="3">)</tspan></text>
</svg>
</body>
</html>
